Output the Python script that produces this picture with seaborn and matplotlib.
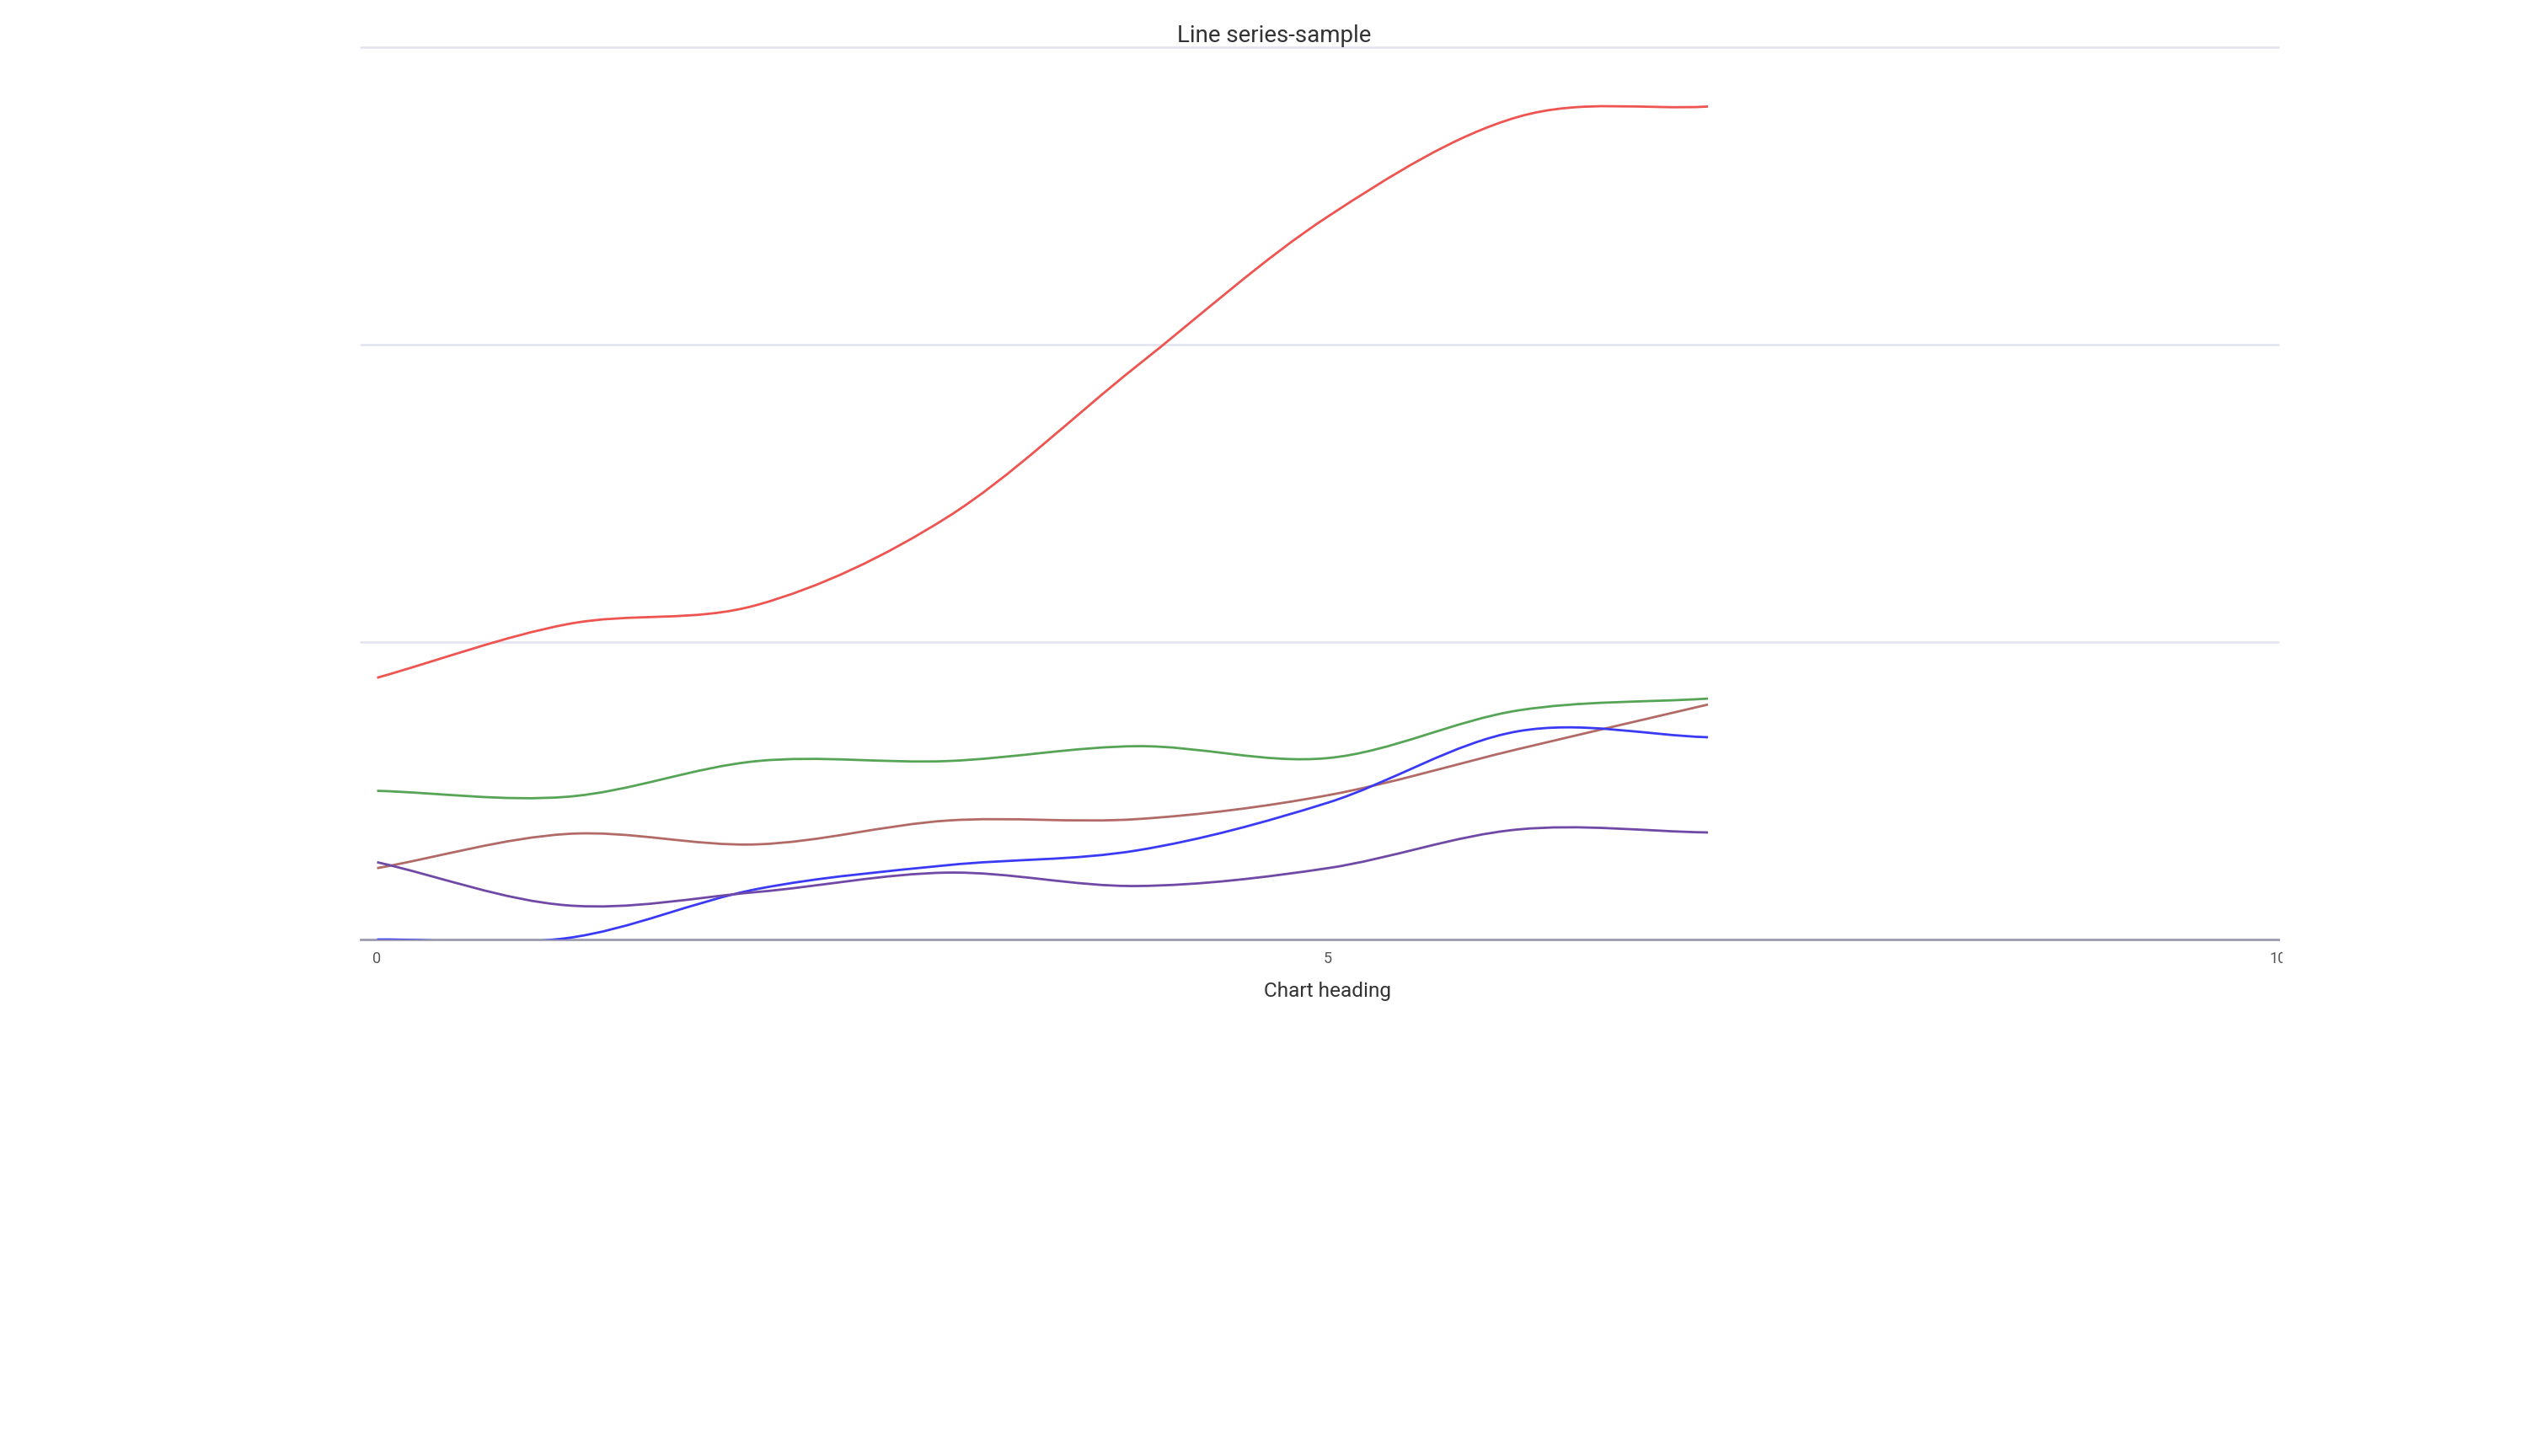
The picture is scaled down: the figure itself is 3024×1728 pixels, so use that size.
import matplotlib
matplotlib.use("Agg")
import matplotlib.pyplot as plt
from matplotlib.path import Path
from matplotlib.patches import PathPatch
from matplotlib.transforms import Bbox, TransformedBbox
import numpy as np
import pandas as pd
import seaborn as sns

# values (y axis has no labels, grid every 10)
x_values = [0, 1, 2, 3, 4, 5, 6, 7]
red_values = [8.8, 10.6, 11.25, 14.2, 19.3, 24.3, 27.65, 28.0]
green_values = [5.0, 4.8, 6.0, 6.0, 6.5, 6.1, 7.7, 8.1]
brown_values = [2.4, 3.55, 3.2, 4.0, 4.05, 4.85, 6.4, 7.9]
blue_values = [0.0, 0.05, 1.7, 2.5, 3.0, 4.6, 7.0, 6.8]
purple_values = [2.6, 1.15, 1.6, 2.25, 1.8, 2.4, 3.7, 3.6]

series_names = ["Series 1", "Series 2", "Series 3", "Series 4", "Series 5"]
series_colours = ["#ee5450", "#56a456", "#b26a66", "#3a3af6", "#7048a6"]
x_ticks = [0, 5, 10]
y_grid = [0, 10, 20, 30]

title = "Line series-sample"
x_title = "Chart heading"

sns.set_theme(style="white")
plt.rcParams["font.family"] = ["Roboto", "DejaVu Sans"]

frames = []
for name, vals in zip(series_names, [red_values, green_values, brown_values, blue_values, purple_values]):
    frames.append(pd.DataFrame({"x": x_values, "y": vals, "series": name}))
df = pd.concat(frames, ignore_index=True)

fig = plt.figure(figsize=(15.12, 8.64), dpi=200)
ax = fig.add_axes([0.1415, 0.3547, 0.7527, 0.613])

sns.lineplot(data=df, x="x", y="y", hue="series", hue_order=series_names,
             palette=series_colours, linewidth=1.0, legend=False, ax=ax)


def smooth_line(ax, line):
    # turn a polyline into a cardinal (catmull-rom) bezier curve through the same points
    xy = line.get_xydata()
    xs, ys = xy[:, 0], xy[:, 1]
    slopes = np.gradient(ys, xs)
    verts = [(xs[0], ys[0])]
    codes = [Path.MOVETO]
    for i in range(len(xs) - 1):
        dx = (xs[i + 1] - xs[i]) / 3.0
        verts += [(xs[i] + dx, ys[i] + slopes[i] * dx),
                  (xs[i + 1] - dx, ys[i + 1] - slopes[i + 1] * dx),
                  (xs[i + 1], ys[i + 1])]
        codes += [Path.CURVE4] * 3
    patch = PathPatch(Path(verts, codes), facecolor="none", edgecolor=line.get_color(),
                      linewidth=line.get_linewidth(), zorder=3)
    ax.add_patch(patch)
    line.remove()


for line in list(ax.lines):
    smooth_line(ax, line)

ax.set_xlim(-0.087, 10)
ax.set_ylim(0, 30)
ax.set_xticks(x_ticks)
ax.set_xticklabels([str(t) for t in x_ticks], fontsize=6.5, color="#555555")
ax.set_yticks(y_grid)
ax.set_yticklabels([])
ax.tick_params(axis="both", length=0)
ax.tick_params(axis="x", pad=5)

ax.grid(axis="y", color="#e2e2f0", linewidth=0.9)
ax.grid(axis="x", visible=False)
for gl in ax.get_ygridlines():
    gl.set_clip_on(False)

sns.despine(ax=ax, left=True, top=True, right=True)
ax.spines["bottom"].set_color("#9e9cb2")
ax.spines["bottom"].set_linewidth(1.0)

ax.set_xlabel(x_title, fontsize=8.8, color="#333333")
ax.xaxis.set_label_coords(0.504, -0.047)
ax.set_ylabel("")

# the right-most tick label is cut at the plot edge in the reference
clip = TransformedBbox(Bbox([[0, -1], [1.002, 1]]), ax.transAxes)
for tick in ax.xaxis.get_major_ticks():
    tick.label1.set_clip_box(clip)
    tick.label1.set_clip_on(True)

fig.text(0.5, 1 - 42 / 1728, title, ha="center", va="center", fontsize=10, color="#333333")

fig.savefig("out.png", dpi=200, facecolor="white")
